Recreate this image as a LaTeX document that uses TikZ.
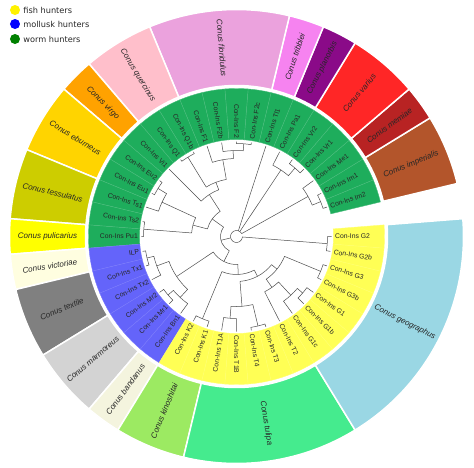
\documentclass[tikz,border=0pt]{standalone}
\usepackage{fontspec}
\setmainfont{Liberation Sans}
\newfontfamily\legendfont{DejaVu Sans}
\usetikzlibrary{positioning}
\usepackage{xcolor}

% ring colours
\definecolor{wormring}{HTML}{1EAD5C}
\definecolor{molring}{HTML}{6464FA}
\definecolor{fishring}{HTML}{FFFF55}
% species colours
\definecolor{imperialiscol}{HTML}{B3552B}
\definecolor{memiaecol}{HTML}{B82323}
\definecolor{variuscol}{HTML}{FF2626}
\definecolor{planorbiscol}{HTML}{8A0A88}
\definecolor{tribbleicol}{HTML}{F683F0}
\definecolor{floriduluscol}{HTML}{EBA2DD}
\definecolor{quercinuscol}{HTML}{FFBFCB}
\definecolor{virgocol}{HTML}{FFA200}
\definecolor{eburneuscol}{HTML}{FFD400}
\definecolor{tessulatuscol}{HTML}{CDCD00}
\definecolor{pulicariuscol}{HTML}{FFFF00}
\definecolor{victoriaecol}{HTML}{FFFEE0}
\definecolor{textilecol}{HTML}{808080}
\definecolor{marmoreuscol}{HTML}{D3D3D3}
\definecolor{bandanuscol}{HTML}{F4F4DE}
\definecolor{kinoshitaicol}{HTML}{9CEA62}
\definecolor{tulipacol}{HTML}{45EB8E}
\definecolor{geographuscol}{HTML}{9AD7E4}

% one arc of the tree: radius, angle 1, radius 1, angle 2, radius 2
\newcommand{\clade}[5]{\draw[branch] (#2:#3) -- (#2:#1) arc[start angle=#2, end angle=#4, radius=#1] -- (#4:#5);}
% ring piece: angle 1, angle 2, inner radius, outer radius, style
\newcommand{\ringpart}[5]{\path[#5] (#1:#3) arc[start angle=#1, end angle=#2, radius=#3] -- (#2:#4) arc[start angle=#2, end angle=#1, radius=#4] -- cycle;}
\def\tipr{95}

\begin{document}
\begin{tikzpicture}[
        x=1pt, y=1pt,
        branch/.style={draw=black!70, line width=0.5pt},
        leaflabel/.style={font=\fontsize{6.8}{7}\selectfont, inner sep=1.5pt, text=black!85},
        species/.style={font=\fontsize{8}{9}\selectfont\itshape, inner sep=0pt, text=black!85},
        keydot/.style={circle, minimum size=10pt, inner sep=0pt},
        keytext/.style={font=\legendfont\fontsize{8.2}{9}\selectfont, inner sep=0pt, text=black!85}
    ]
        \useasboundingbox (-236.5,-230.5) rectangle (237.5,236.5);

        % outer ring: species
        \foreach \a/\b/\sp/\rot in {13.5/31.5/imperialis/22.5, 31.5/40.5/memiae/36, 40.5/58.5/varius/49.5,
            58.5/67.5/planorbis/63, 67.5/76.5/tribblei/72, 76.5/112.5/floridulus/274.5,
            112.5/130.5/quercinus/301.5, 130.5/139.5/virgo/315, 139.5/157.5/eburneus/328.5,
            157.5/175.5/tessulatus/346.5, 175.5/184.5/pulicarius/0, 184.5/193.5/victoriae/9,
            193.5/211.5/textile/22.5, 211.5/229.5/marmoreus/40.5, 229.5/238.5/bandanus/54,
            238.5/256.5/kinoshitai/67.5, 256.5/301.5/tulipa/279, 301.5/364.5/geographus/333} {
            \ringpart{\a}{\b}{151}{227}{fill=\sp col, draw=white, line width=1.5pt}
            \node[species, rotate=\rot] (s\sp) at ({(\a+\b)/2}:189) {Conus \sp};
        }

        % inner ring: one piece per leaf
        \foreach \ang in {18,27,...,180} {
            \ringpart{\ang-4.5}{\ang+4.5}{97}{148}{fill=wormring, draw=wormring!80!white, line width=0.4pt}
        }
        \foreach \ang in {189,198,...,234} {
            \ringpart{\ang-4.5}{\ang+4.5}{97}{148}{fill=molring, draw=molring!85!white, line width=0.4pt}
        }
        \foreach \ang in {243,252,...,360} {
            \ringpart{\ang-4.5}{\ang+4.5}{97}{148}{fill=fishring, draw=fishring!85!white, line width=0.4pt}
        }

        % leaf labels
        \foreach \ang/\nm/\txt in {18/Im2/Con-Ins Im2, 27/Im1/Con-Ins Im1, 36/Me1/Con-Ins Me1, 45/Vr1/Con-Ins Vr1,
            54/Vr2/Con-Ins Vr2, 63/Pa1/Con-Ins Pa1, 72/Tl1/Con-Ins Tl1, 81/F2c/Con-Ins F2c, 90/F2/Con-Ins F2,
            99/F2b/Con-Ins F2b, 108/F1/Con-Ins F1, 117/Q1b/Con-Ins Q1b, 126/Q1/Con-Ins Q1, 135/Vi1/Con-Ins Vi1,
            144/Eu2/Con-Ins Eu2, 153/Eu1/Con-Ins Eu1, 162/Ts1/Con-Ins Ts1, 171/Ts2/Con-Ins Ts2, 180/Pu1/Con-Ins Pu1,
            189/ILP/ILP, 198/Tx1/Con-Ins Tx1, 207/Tx2/Con-Ins Tx2, 216/Mr2/Con-Ins Mr2, 225/Mr1/Con-Ins Mr1,
            234/Bn1/Con-Ins Bn1, 243/K2/Con-Ins K2, 252/K1/Con-Ins K1, 261/T1A/Con-Ins T1A, 270/T1B/Con-Ins T1B,
            279/T4/Con-Ins T4, 288/T3/Con-Ins T3, 297/T2/Con-Ins T2, 306/G1c/Con-Ins G1c, 315/G1b/Con-Ins G1b,
            324/G1/Con-Ins G1, 333/G3b/Con-Ins G3b, 342/G3/Con-Ins G3, 351/G2b/Con-Ins G2b, 360/G2/Con-Ins G2} {
            \pgfmathtruncatemacro{\lft}{and(\ang>=90, \ang<270)}
            \ifnum\lft=1
                \node[leaflabel, anchor=east, rotate=\ang+180] (l\nm) at (\ang:97) {\txt};
            \else
                \node[leaflabel, anchor=west, rotate=\ang] (l\nm) at (\ang:97) {\txt};
            \fi
        }

        % tree: worm hunters
        \clade{93}{81}{\tipr}{90}{\tipr}
        \clade{86}{85.5}{93}{99}{\tipr}
        \clade{78}{92.25}{86}{108}{\tipr}
        \clade{93}{117}{\tipr}{126}{\tipr}
        \clade{58}{100.125}{78}{121.5}{93}
        \clade{50}{110.8125}{58}{135}{\tipr}
        \clade{92}{144}{\tipr}{153}{\tipr}
        \clade{82}{148.5}{92}{162}{\tipr}
        \clade{93}{171}{\tipr}{180}{\tipr}
        \clade{45}{155.25}{82}{175.5}{93}
        \clade{30}{122.90625}{50}{165.375}{45}
        \clade{91}{18}{\tipr}{27}{\tipr}
        \clade{82}{22.5}{91}{36}{\tipr}
        \clade{90}{45}{\tipr}{54}{\tipr}
        \clade{80}{49.5}{90}{63}{\tipr}

        % tree: mollusk hunters
        \clade{92}{189}{\tipr}{198}{\tipr}
        \clade{85}{193.5}{92}{207}{\tipr}
        \clade{90}{216}{\tipr}{225}{\tipr}
        \clade{83}{220.5}{90}{234}{\tipr}
        \clade{72}{200.25}{85}{227.25}{83}

        % tree: fish hunters
        \clade{89}{243}{\tipr}{252}{\tipr}
        \clade{82}{261}{\tipr}{270}{\tipr}
        \clade{92}{279}{\tipr}{288}{\tipr}
        \clade{70}{265.5}{82}{283.5}{92}
        \clade{87}{315}{\tipr}{324}{\tipr}
        \clade{80}{306}{\tipr}{319.5}{87}
        \clade{62}{297}{\tipr}{312.75}{80}
        \clade{91}{333}{\tipr}{342}{\tipr}
        \clade{52}{304.875}{62}{337.5}{91}
        \clade{45}{274.5}{70}{321.1875}{52}
        \clade{38}{247.5}{89}{297.84375}{45}
        \clade{91}{351}{\tipr}{360}{\tipr}

        % deep nodes and root
        \clade{28}{213.75}{72}{272.671875}{38}
        \clade{16}{144.140625}{30}{243.2109375}{28}
        \clade{6}{29.25}{82}{355.5}{91}
        \draw[branch] (56.25:6) -- (56.25:80);
        \draw[branch] (72:6) -- (72:\tipr);
        \draw[branch] (193.67578:6) -- (193.67578:16);

        % legend
        \node[keydot, fill=yellow] (kfish) at (-221.5,226.5) {};
        \node[keydot, fill=blue] (kmol) at (-221.5,212.5) {};
        \node[keydot, fill=green!50!black] (kworm) at (-221.5,197.5) {};
        \node[keytext, right=3pt of kfish] (tfish) {fish hunters};
        \node[keytext, right=3pt of kmol] (tmol) {mollusk hunters};
        \node[keytext, right=3pt of kworm] (tworm) {worm hunters};
    \end{tikzpicture}
\end{document}
